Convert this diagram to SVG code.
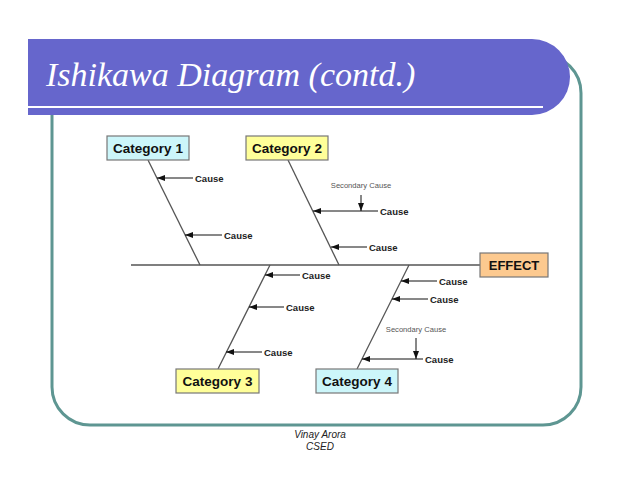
<svg xmlns="http://www.w3.org/2000/svg" width="638" height="493" viewBox="0 0 638 493">
<style>
.bone{stroke:#555;stroke-width:1.3;fill:none}
.arr{stroke:#111;stroke-width:1;fill:none;marker-end:url(#ah)}
.box{stroke:#777;stroke-width:1.2}
.cat{font-family:"Liberation Sans",Arial,sans-serif;font-weight:bold;font-size:13.5px;fill:#111;text-anchor:middle}
.cause{font-family:"Liberation Sans",Arial,sans-serif;font-weight:bold;font-size:9.5px;fill:#222;dominant-baseline:central}
.sec{font-family:"Liberation Sans",Arial,sans-serif;font-size:7.6px;fill:#555;text-anchor:middle}
.foot{font-family:"Liberation Sans",Arial,sans-serif;font-style:italic;font-size:10px;fill:#222;text-anchor:middle}
</style>
<defs>
<marker id="ah" viewBox="0 0 8 6" refX="8" refY="3" markerWidth="8" markerHeight="6" markerUnits="userSpaceOnUse" orient="auto">
<path d="M0,0 L8,3 L0,6 Z" fill="#111"/>
</marker>
</defs>
<rect width="638" height="493" fill="#fff"/>
<g id="frame">
<rect x="52" y="55" width="529" height="370" rx="38" fill="none" stroke="#5e9692" stroke-width="3"/>
</g>
<g id="banner">
<path d="M28,39 H532 A38,38 0 0 1 570,77 A38,38 0 0 1 532,115 H28 Z" fill="#6666cc"/>
<line x1="28" y1="107" x2="543" y2="107" stroke="#fff" stroke-width="2"/>
<text x="46" y="86" font-family="'Liberation Serif','Times New Roman',serif" font-style="italic" font-size="34" fill="#fff">Ishikawa Diagram (contd.)</text>
</g>
<g id="connectors">
<line class="bone" x1="131" y1="265" x2="480" y2="265"/>
<line class="bone" x1="148" y1="160" x2="200" y2="265"/>
<line class="bone" x1="288" y1="160" x2="339" y2="265"/>
<line class="bone" x1="270" y1="265" x2="218" y2="369"/>
<line class="bone" x1="409" y1="265" x2="357" y2="369"/>
<line class="arr" x1="193" y1="178" x2="157" y2="178"/>
<line class="arr" x1="222" y1="235" x2="185" y2="235"/>
<line class="arr" x1="378" y1="211" x2="313" y2="211"/>
<line class="arr" x1="367" y1="247" x2="331" y2="247"/>
<line class="arr" x1="361" y1="195" x2="361" y2="211"/>
<line class="arr" x1="300" y1="275" x2="265" y2="275"/>
<line class="arr" x1="284" y1="307" x2="249" y2="307"/>
<line class="arr" x1="262" y1="352" x2="226" y2="352"/>
<line class="arr" x1="437" y1="281" x2="401" y2="281"/>
<line class="arr" x1="428" y1="299" x2="392" y2="299"/>
<line class="arr" x1="423" y1="359" x2="362" y2="359"/>
<line class="arr" x1="416" y1="338" x2="416" y2="359"/>
</g>
<g id="causes">
<text class="cause" x="195" y="178">Cause</text>
<text class="cause" x="224" y="235">Cause</text>
<text class="cause" x="380" y="211">Cause</text>
<text class="cause" x="369" y="247">Cause</text>
<text class="sec" x="361" y="188">Secondary Cause</text>
<text class="cause" x="302" y="275">Cause</text>
<text class="cause" x="286" y="307">Cause</text>
<text class="cause" x="264" y="352">Cause</text>
<text class="cause" x="439" y="281">Cause</text>
<text class="cause" x="430" y="299">Cause</text>
<text class="cause" x="425" y="359">Cause</text>
<text class="sec" x="416" y="332">Secondary Cause</text>
</g>
<g id="cat1"><rect class="box" x="107" y="136" width="82" height="24" fill="#ccf6fa"/><text class="cat" x="148" y="153">Category 1</text></g>
<g id="cat2"><rect class="box" x="246" y="136" width="82" height="24" fill="#ffff99"/><text class="cat" x="287" y="153">Category 2</text></g>
<g id="cat3"><rect class="box" x="176" y="369" width="83" height="24" fill="#ffff99"/><text class="cat" x="217.5" y="386">Category 3</text></g>
<g id="cat4"><rect class="box" x="316" y="369" width="82" height="24" fill="#ccf6fa"/><text class="cat" x="357" y="386">Category 4</text></g>
<g id="effect"><rect class="box" x="480" y="253" width="68" height="24" fill="#fcc98f"/><text class="cat" x="514" y="270" style="font-size:13px">EFFECT</text></g>
<g id="footer">
<text class="foot" x="320" y="438">Vinay Arora</text>
<text class="foot" x="320" y="450">CSED</text>
</g>
</svg>
